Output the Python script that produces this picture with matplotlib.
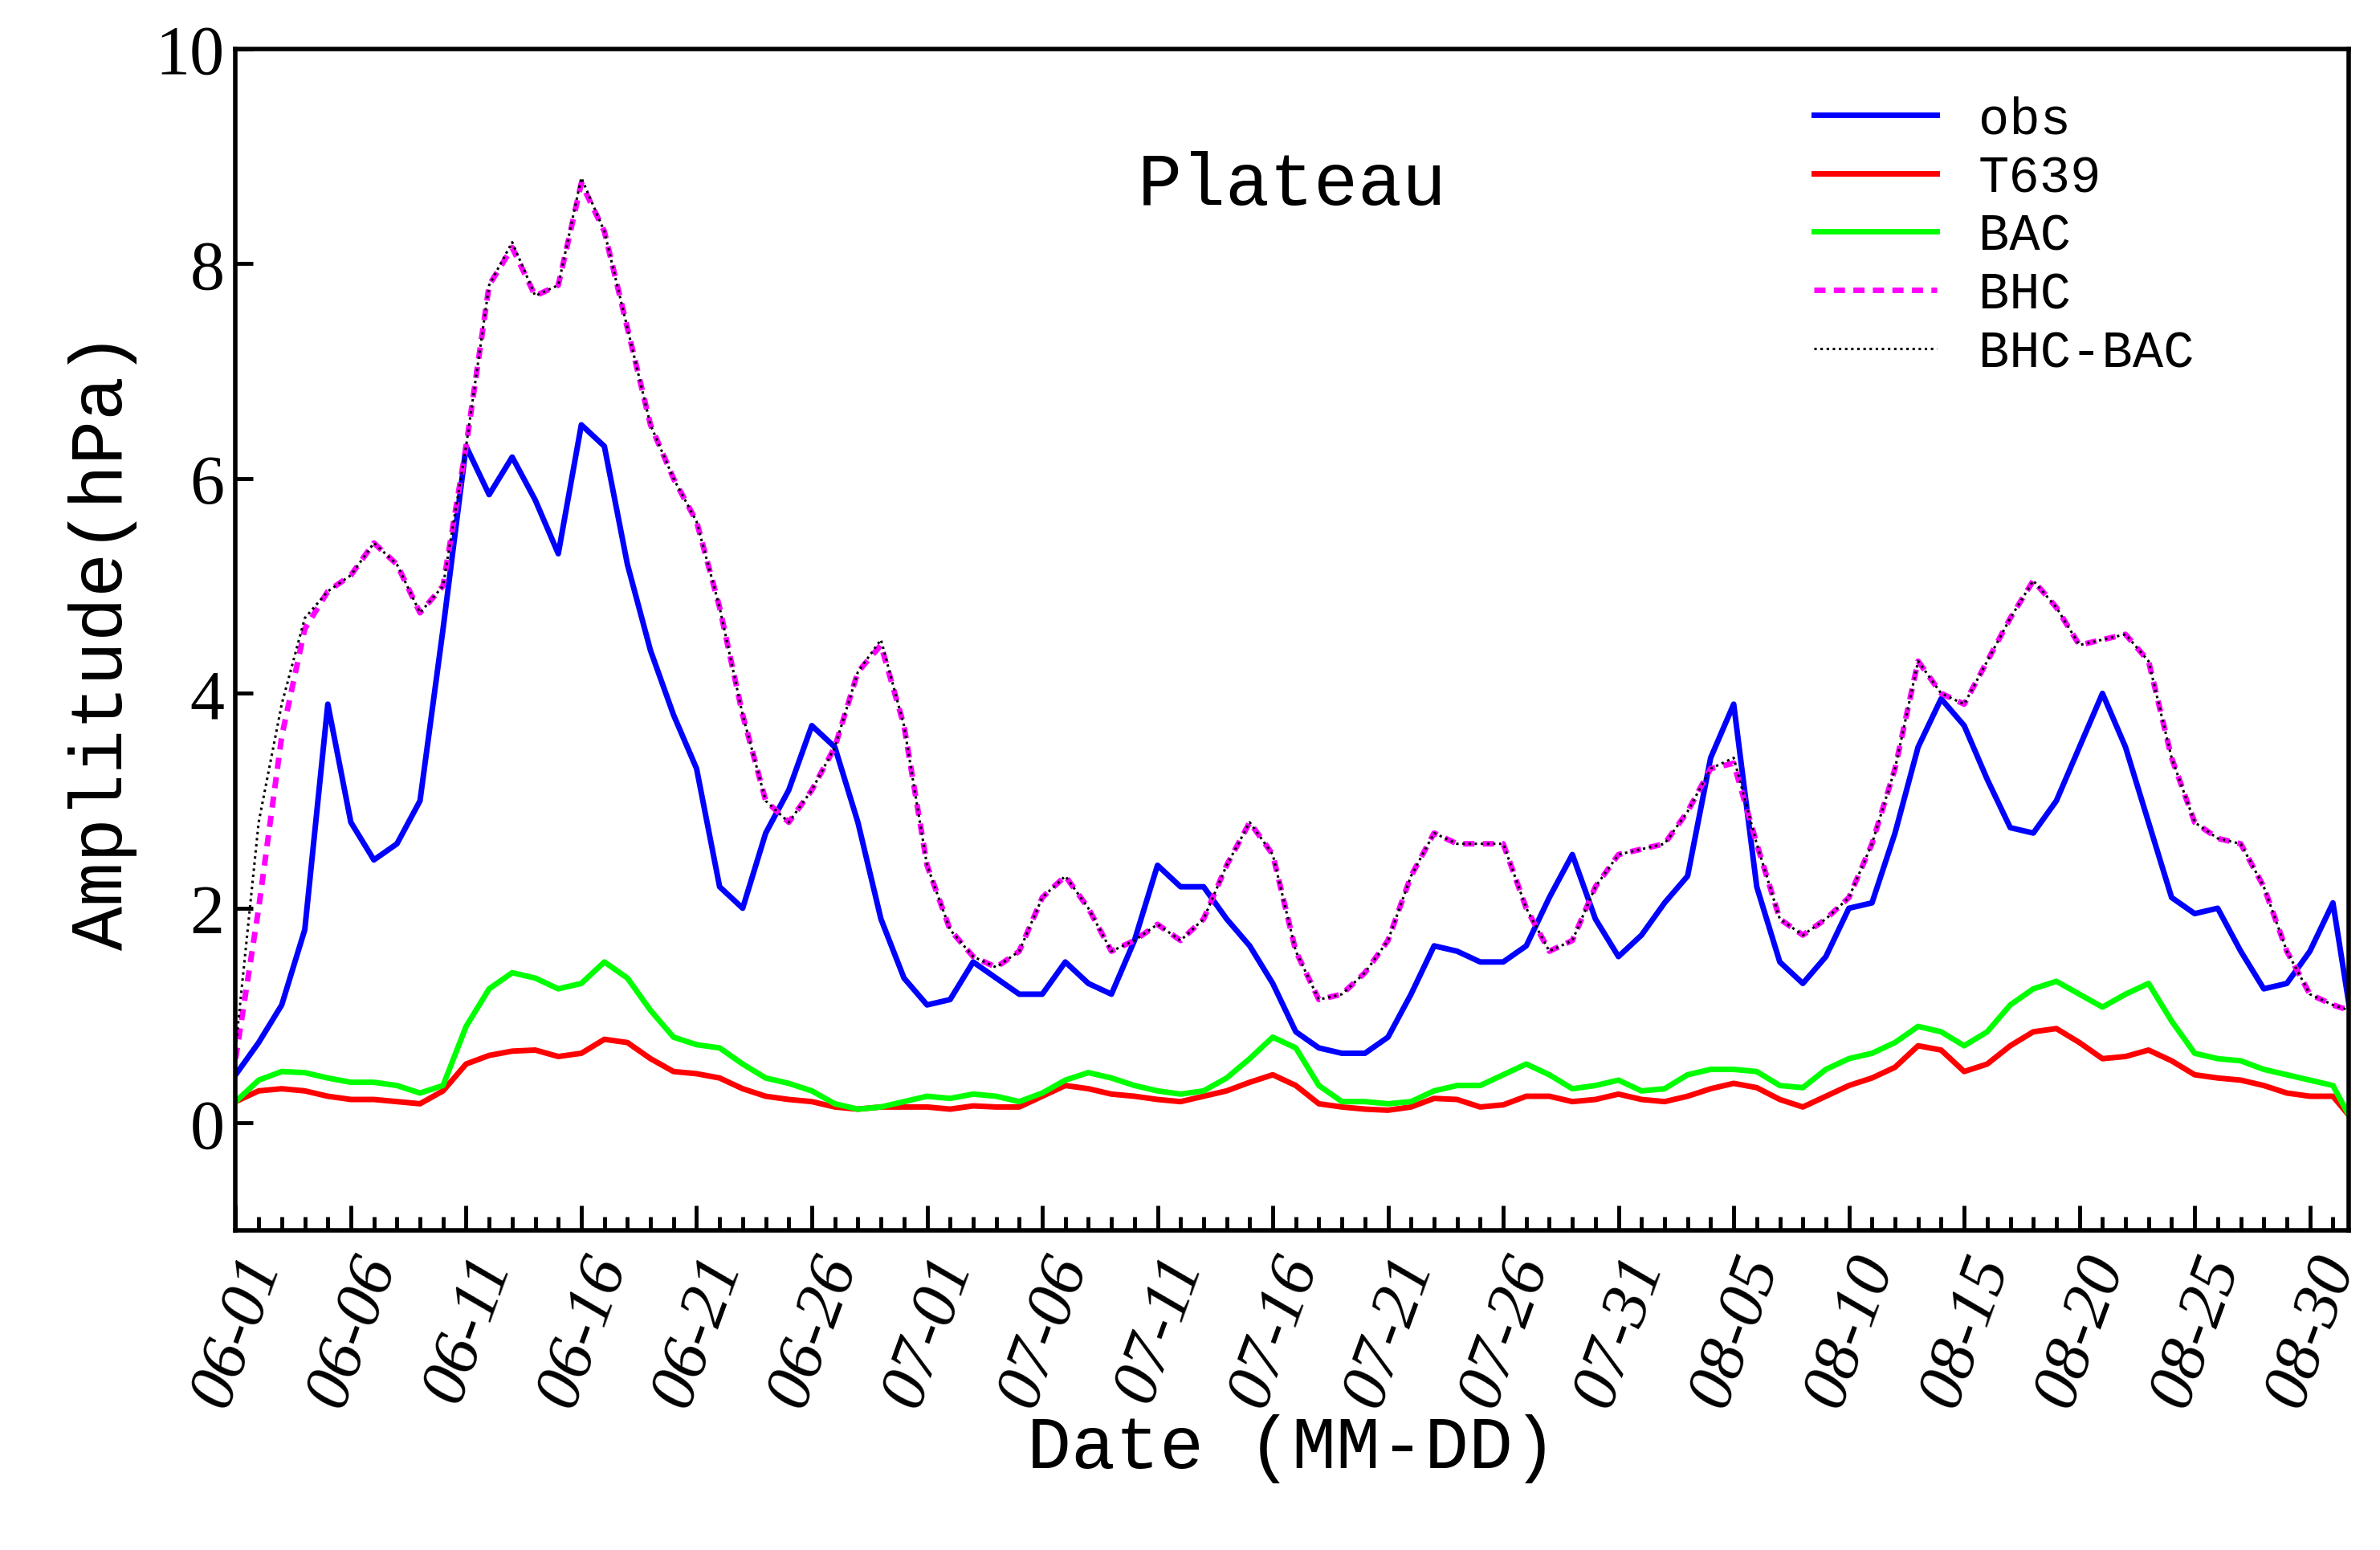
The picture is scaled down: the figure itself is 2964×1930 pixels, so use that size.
import numpy as np
import matplotlib
matplotlib.use("Agg")
import matplotlib.pyplot as plt
import datetime as dt

obs = [0.45,0.75,1.1,1.8,3.9,2.8,2.45,2.6,3.0,4.6,6.3,5.85,6.2,5.8,5.3,6.5,6.3,5.2,4.4,3.8,3.3,2.2,2.0,2.7,3.1,3.7,3.5,2.8,1.9,1.35,1.1,1.15,1.5,1.35,1.2,1.2,1.5,1.3,1.2,1.7,2.4,2.2,2.2,1.9,1.65,1.3,0.85,0.7,0.65,0.65,0.8,1.2,1.65,1.6,1.5,1.5,1.65,2.1,2.5,1.9,1.55,1.75,2.05,2.3,3.4,3.9,2.2,1.5,1.3,1.55,2.0,2.05,2.7,3.5,3.95,3.7,3.2,2.75,2.7,3.0,3.5,4.0,3.5,2.8,2.1,1.95,2.0,1.6,1.25,1.3,1.6,2.05,1.1]
t639 = [0.2,0.3,0.32,0.3,0.25,0.22,0.22,0.2,0.18,0.3,0.55,0.63,0.67,0.68,0.62,0.65,0.78,0.75,0.6,0.48,0.46,0.42,0.32,0.25,0.22,0.2,0.15,0.13,0.15,0.15,0.15,0.13,0.16,0.15,0.15,0.25,0.35,0.32,0.27,0.25,0.22,0.2,0.25,0.3,0.38,0.45,0.35,0.18,0.15,0.13,0.12,0.15,0.23,0.22,0.15,0.17,0.25,0.25,0.2,0.22,0.27,0.22,0.2,0.25,0.32,0.37,0.33,0.22,0.15,0.25,0.35,0.42,0.52,0.72,0.68,0.48,0.55,0.72,0.85,0.88,0.75,0.6,0.62,0.68,0.58,0.45,0.42,0.4,0.35,0.28,0.25,0.25,0.07]
bac = [0.2,0.4,0.48,0.47,0.42,0.38,0.38,0.35,0.28,0.35,0.9,1.25,1.4,1.35,1.25,1.3,1.5,1.35,1.05,0.8,0.73,0.7,0.55,0.42,0.37,0.3,0.18,0.13,0.15,0.2,0.25,0.23,0.27,0.25,0.2,0.28,0.4,0.47,0.42,0.35,0.3,0.27,0.3,0.42,0.6,0.8,0.7,0.35,0.2,0.2,0.18,0.2,0.3,0.35,0.35,0.45,0.55,0.45,0.32,0.35,0.4,0.3,0.32,0.45,0.5,0.5,0.48,0.35,0.33,0.5,0.6,0.65,0.75,0.9,0.85,0.72,0.85,1.1,1.25,1.32,1.2,1.08,1.2,1.3,0.95,0.65,0.6,0.58,0.5,0.45,0.4,0.35,0.07]
bhc = [0.6,2.0,3.6,4.6,4.95,5.1,5.4,5.2,4.75,5.0,6.3,7.8,8.15,7.7,7.8,8.75,8.3,7.4,6.5,6.0,5.6,4.8,3.8,3.0,2.8,3.1,3.5,4.2,4.45,3.7,2.4,1.8,1.55,1.45,1.6,2.1,2.3,2.0,1.6,1.7,1.85,1.7,1.9,2.4,2.8,2.5,1.6,1.15,1.2,1.4,1.7,2.3,2.7,2.6,2.6,2.6,2.0,1.6,1.7,2.2,2.5,2.55,2.6,2.9,3.3,3.35,2.6,1.9,1.75,1.9,2.1,2.6,3.3,4.3,4.0,3.9,4.3,4.7,5.05,4.8,4.45,4.5,4.55,4.3,3.4,2.8,2.65,2.6,2.2,1.6,1.2,1.1,1.05]
bhc_bac = [0.7,2.8,3.9,4.7,4.95,5.1,5.4,5.2,4.75,5.0,6.3,7.8,8.2,7.7,7.8,8.8,8.3,7.4,6.5,6.0,5.6,4.8,3.8,3.0,2.8,3.1,3.5,4.2,4.5,3.7,2.4,1.8,1.55,1.45,1.6,2.1,2.3,2.0,1.6,1.7,1.85,1.7,1.9,2.4,2.8,2.5,1.6,1.15,1.2,1.4,1.7,2.3,2.7,2.6,2.6,2.6,2.0,1.6,1.7,2.2,2.5,2.55,2.6,2.9,3.3,3.4,2.6,1.9,1.75,1.9,2.1,2.6,3.3,4.3,4.0,3.9,4.3,4.7,5.05,4.8,4.45,4.5,4.55,4.3,3.4,2.8,2.65,2.6,2.2,1.6,1.2,1.1,1.05]

start = dt.date(2000, 6, 1)
ndays = 92
dates = [start + dt.timedelta(days=i) for i in range(ndays)]
# sample positions in days since 06-01; the last sample is end of 08-31
x = np.append(np.arange(ndays), 91.7)
tick_idx = list(range(0, ndays - 1, 5))
tick_labels = [dates[i].strftime("%m-%d") for i in tick_idx]

plt.rcParams['font.family'] = ['Liberation Mono', 'DejaVu Sans']
fig = plt.figure(figsize=(29.64, 19.31), dpi=100)
ax = fig.add_axes([0.099, 0.206, 0.888, 0.762])
lw = 5
kw = dict(solid_joinstyle='round', dash_joinstyle='round')
ax.plot(x, obs, color='#0000ff', lw=lw, label='obs', **kw)
ax.plot(x, t639, color='#ff0000', lw=lw, label='T639', **kw)
ax.plot(x, bac, color='#00ff00', lw=lw, label='BAC', **kw)
ax.plot(x, bhc, color='#ff00ff', lw=lw, ls=(0, (2, 1.5)), label='BHC', **kw)
ax.plot(x, bhc_bac, color='black', lw=2.2, ls=(0, (1, 1.5)), label='BHC-BAC', **kw)

ax.set_xlim(0, 91.7)
ax.set_ylim(-1, 10)
ax.set_yticks([0, 2, 4, 6, 8, 10])
ax.set_xticks(tick_idx)
ax.set_xticks(np.arange(ndays), minor=True)
ax.set_xticklabels(tick_labels, rotation=70, ha='right', rotation_mode='anchor',
                   fontsize=60, fontfamily='Liberation Serif', style='italic')
ax.tick_params(axis='y', labelsize=62, direction='in', length=16, width=3.5, pad=10)
for lab in ax.get_yticklabels():
    lab.set_fontfamily('Liberation Serif')
ax.tick_params(axis='x', which='major', direction='in', length=22, width=3.5, pad=14)
ax.tick_params(axis='x', which='minor', direction='in', length=12, width=3.5)
for s in ax.spines.values():
    s.set_linewidth(4)
ax.set_xlabel('Date (MM-DD)', fontsize=66, labelpad=0)
ax.set_ylabel('Amplitude(hPa)', fontsize=66, labelpad=16)
ax.text(0.50, 0.885, 'Plateau', transform=ax.transAxes, fontsize=66, ha='center', va='center')
ax.legend(loc='upper left', bbox_to_anchor=(0.725, 1.0), frameon=False, fontsize=46,
          handlelength=2.4, labelspacing=0.2, handletextpad=0.8)
fig.savefig('out.png', dpi=100)
